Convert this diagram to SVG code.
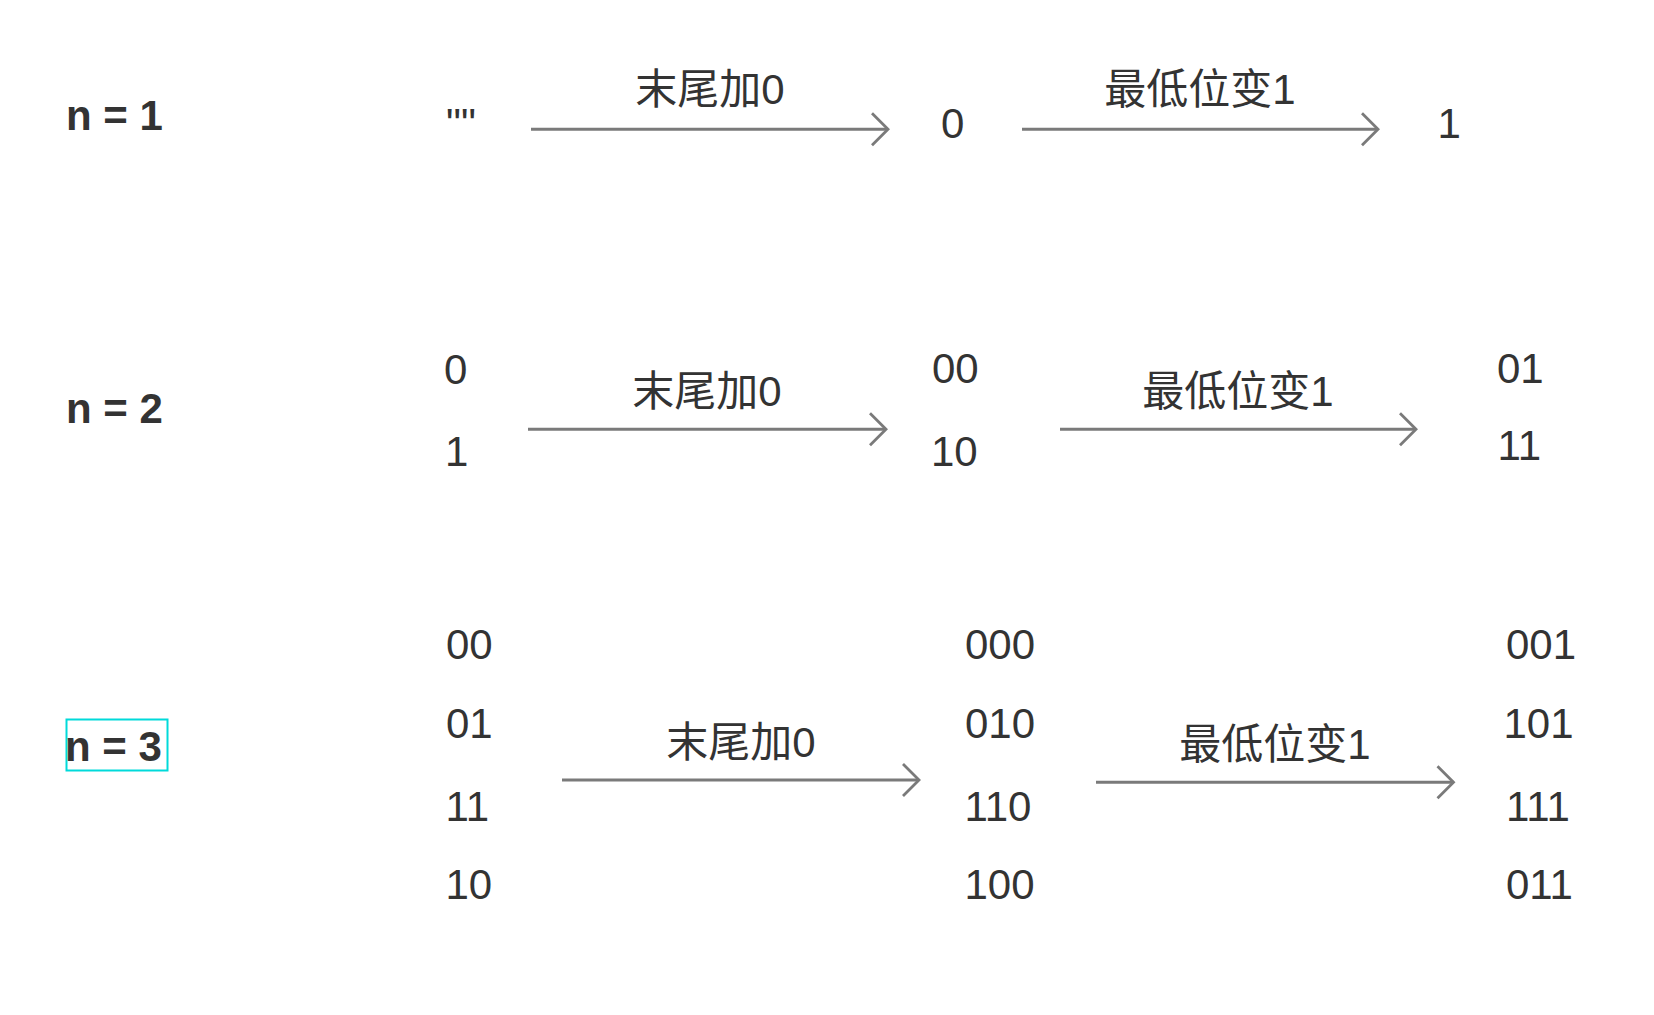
<svg xmlns="http://www.w3.org/2000/svg" width="1654" height="1015" viewBox="0 0 1654 1015">
<style>
  .t { font-family: "Liberation Sans", Arial, "Noto Sans CJK SC", sans-serif; font-size: 42px; fill: #333333; }
  .b { font-weight: bold; }
  .lbl { font-family: "Liberation Sans", "Noto Sans CJK SC", sans-serif; font-size: 42px; fill: #333333; text-anchor: middle; }
  .arr { stroke: #7a7a7a; stroke-width: 3; fill: none; }
</style>
<defs>
  <marker id="ah" markerUnits="userSpaceOnUse" markerWidth="24" markerHeight="36" refX="18" refY="17" orient="auto">
    <path d="M2,1 L18,17 L2,33" fill="none" stroke="#7a7a7a" stroke-width="2.8"/>
  </marker>
</defs>
<rect width="1654" height="1015" fill="#ffffff"/>

<g id="row-labels">
  <g id="n1"><text class="t b" x="66" y="130">n = 1</text></g>
  <g id="n2"><text class="t b" x="66" y="423">n = 2</text></g>
  <g id="n3">
    <rect x="66.5" y="719.5" width="101" height="51" fill="none" stroke="#00dada" stroke-width="2"/>
    <text class="t b" x="65" y="761">n = 3</text>
  </g>
</g>

<g id="row1-nodes">
  <g id="r1c1"><text class="t" x="446" y="138">""</text></g>
  <g id="r1c2"><text class="t" x="941" y="138">0</text></g>
  <g id="r1c3"><text class="t" x="1437.5" y="138">1</text></g>
</g>

<g id="row2-nodes">
  <g id="r2c1">
    <text class="t" x="444" y="384">0</text>
    <text class="t" x="445" y="466">1</text>
  </g>
  <g id="r2c2">
    <text class="t" x="932" y="383">00</text>
    <text class="t" x="931" y="466">10</text>
  </g>
  <g id="r2c3">
    <text class="t" x="1497" y="383">01</text>
    <text class="t" x="1497.5" y="460">11</text>
  </g>
</g>

<g id="row3-nodes">
  <g id="r3c1">
    <text class="t" x="446" y="658.5">00</text>
    <text class="t" x="446" y="738">01</text>
    <text class="t" x="445.5" y="820.5">11</text>
    <text class="t" x="445.5" y="899">10</text>
  </g>
  <g id="r3c2">
    <text class="t" x="965" y="658.5">000</text>
    <text class="t" x="965" y="738">010</text>
    <text class="t" x="964.5" y="820.5">110</text>
    <text class="t" x="964.5" y="899">100</text>
  </g>
  <g id="r3c3">
    <text class="t" x="1506" y="658.5">001</text>
    <text class="t" x="1503.5" y="738">101</text>
    <text class="t" x="1506" y="820.5">111</text>
    <text class="t" x="1506" y="899">011</text>
  </g>
</g>

<g id="connectors">
  <line class="arr" x1="531" y1="129.3" x2="888" y2="129.3" marker-end="url(#ah)"/>
  <text class="lbl" x="710" y="104">末尾加0</text>
  <line class="arr" x1="1022" y1="129.3" x2="1378" y2="129.3" marker-end="url(#ah)"/>
  <text class="lbl" x="1200" y="104">最低位变1</text>

  <line class="arr" x1="528" y1="429.3" x2="886" y2="429.3" marker-end="url(#ah)"/>
  <text class="lbl" x="707" y="406">末尾加0</text>
  <line class="arr" x1="1060" y1="429.3" x2="1416" y2="429.3" marker-end="url(#ah)"/>
  <text class="lbl" x="1238" y="406">最低位变1</text>

  <line class="arr" x1="562" y1="780" x2="919" y2="780" marker-end="url(#ah)"/>
  <text class="lbl" x="741" y="757">末尾加0</text>
  <line class="arr" x1="1096" y1="782.3" x2="1453.5" y2="782.3" marker-end="url(#ah)"/>
  <text class="lbl" x="1275" y="759">最低位变1</text>
</g>
</svg>
